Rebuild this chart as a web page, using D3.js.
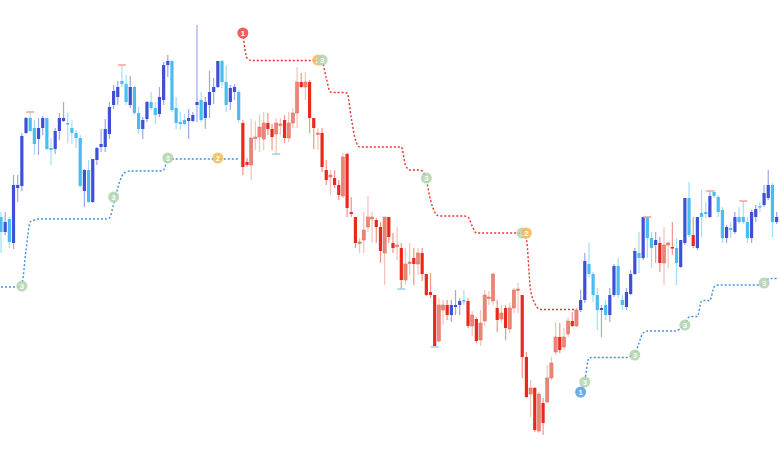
<!DOCTYPE html>
<html><head><meta charset="utf-8">
<script src="https://cdn.jsdelivr.net/npm/d3@7"></script>
<style>html,body{margin:0;padding:0;background:#fff;}svg{display:block}</style>
</head><body><svg id="chart" width="780" height="460"></svg>
<script>
// ---- Candle data (index = bar number) ----
const open = [243,228,241,217,272,274,327,342,332,321,
332,342,312,311,329,339,337,332,327,322,
269,290,258,300,313,313,326,355,363,379,
376,355,373,347,331,341,358,352,346,360,
395,399,352,338,340,339,339,355,360,342,
355,368,373,399,378,358,368,368,
337,298,295,322,323,321,337,331,326,335,
340,322,337,347,378,373,378,342,326,327,
290,283,282,275,264,306,248,243,217,220,
233,241,240,233,207,243,217,214,212,
180,197,202,196,207,186,168,165,119,150,
155,145,153,155,160,159,134,141,120,139,
162,159,152,141,152,131,152,170,165,103,
66,72,29,57,58,82,108,123,113,126,139,134,
150,160,196,186,165,150,155,145,165,194,
160,153,166,186,207,202,243,222,215,217,
197,215,213,212,193,217,262,225,212,247,
248,243,268,263,250,222,232,228,243,243,
238,222,243,254,255,262,275,238];
const high = [248,248,243,285,285,327,343,348,340,342,
344,342,322,332,347,358,347,340,330,325,
291,300,301,313,331,341,358,375,379,395,
385,384,374,353,343,359,368,358,373,398,
405,400,363,348,346,351,348,435,368,363,
389,382,399,400,395,375,376,370,
340,302,341,339,345,348,347,336,342,342,
345,348,352,393,387,388,380,342,332,332,
300,290,290,280,307,307,263,243,222,248,
264,248,242,238,243,243,227,233,217,
212,217,212,212,212,186,187,165,162,160,
160,160,170,162,170,162,149,143,150,170,
169,187,160,155,155,157,172,177,165,108,
80,73,68,62,95,103,138,137,132,143,148,152,
170,207,217,188,172,155,160,172,196,202,
165,172,190,212,228,243,243,228,228,223,
233,218,238,222,220,262,278,243,243,270,
258,269,270,265,253,235,238,248,253,259,
243,250,255,258,275,290,277,248];
const low = [207,225,212,211,258,269,326,328,305,305,
325,310,295,306,320,338,317,316,312,273,
253,257,257,295,308,308,321,351,355,373,
355,352,345,326,321,338,350,336,343,355,
383,348,331,330,335,321,338,338,338,331,
342,356,372,372,348,350,360,338,
285,293,280,310,308,310,325,310,306,325,
317,318,332,332,372,360,327,311,310,288,
275,265,272,260,262,243,243,212,207,207,
228,217,217,197,175,217,207,200,171,
175,185,175,185,179,164,162,113,117,135,
140,138,145,145,155,132,124,117,114,134,
155,155,128,137,120,127,147,147,82,62,
43,28,27,25,57,80,105,107,110,123,133,133,
148,157,183,158,130,123,140,138,163,162,
150,150,165,185,187,200,202,192,197,188,
175,192,205,175,192,215,223,212,210,223,
242,242,262,243,217,217,222,226,236,236,
217,217,238,248,253,260,223,236];
const close = [228,238,218,275,275,324,342,329,316,332,
342,311,310,329,342,342,336,327,322,274,
290,258,301,312,316,331,353,369,373,376,
358,373,347,331,340,358,352,345,363,395,
399,350,337,336,336,342,345,358,340,358,
368,373,399,378,355,372,373,340,
293,295,322,323,333,337,331,323,337,336,
322,337,347,378,373,378,342,332,327,293,
280,285,275,265,303,252,246,217,218,230,
243,243,233,209,243,223,212,215,180,
196,198,196,207,186,165,165,114,155,155,
145,155,155,159,159,134,145,119,137,165,
163,186,140,147,132,152,170,171,103,63,
72,30,66,37,82,97,123,110,123,139,134,150,
160,199,186,165,150,152,145,165,194,165,
155,168,186,209,202,243,222,212,220,197,
215,217,212,197,220,262,225,214,243,243,
246,264,264,248,222,233,230,243,238,238,
222,248,251,253,267,275,238,243];

// bars drawn in the bearish-trend palette: [first, last]
const downRuns = [[58,107],[112,138],[158,161],[166,166]];
// swing markers
const highMarks = [7,29,155,170,178];
const lowMarks = [66,96,104];

// ---- trailing stop lines ----
const upStopAStart = 0;
const upStopA = [173,173,173,173,173,176,210,238,240,
241,241,241,241,241,241,241,241,241,241,241,241,241,241,241,241,241,
242,256,272,284,288,289,289,289,289,289,289,289,289,290,301,
301,301,301,301,301,301,301,301,301,301,301,301,301,301,301,301,301];
const downStopStart = 58;
const downStop = [427,402,399.5,399.5,399.5,399.5,399.5,399.5,399.5,399.5,399.5,399.5,399.5,399.5,399.5,399.5,399.5,399.5,
399,398,382,368,367.5,367.5,367.5,367,342,320,
313,313,313,313,313,313,313,313,313,313,313,
295,290,290,290,289,280,260,248,244,244,244,244,244,244,244,243,234,
227,227,227,227,227,227,227,227,227,227,227,
226,220,170,157,151,150.5,150.5,150.5,150.5,150.5,150.5,150.5,150.5,150.5];
const upStopBStart = 139;
const upStopB = [68,80,102,102.5,102.5,102.5,102.5,102.5,102.5,102.5,102.5,102.5,
104,106,117,127,129,129,129,129,129,129,129,129,132,136,143,143.5,143.5,
159,159.5,159.5,173,175,175,175,175,175,175,175,175,175,175,175,177,181,181.5,181.5];

// ---- signal badges ----
const signalIndex = [76,77,102,125,126,58,5,27,40,52,140,152,164,183,139];
const signalValue = [400,400,282,227,227,427,174,263,302,302,78,105,135,177,68];
const signalLabel = ["2","3","3","3","2","1","3","3","3","2","3","3","3","3","1"];
const signalSide  = ["d","d","d","d","d","d","u","u","u","u","u","u","u","u","u"];

// ---- drawing ----
const N = open.length;
const svg = d3.select("#chart");
const x = d3.scaleLinear().domain([0, N - 1]).range([1, 776.6]);
const y = d3.scaleLinear().domain([0, 460]).range([460, 0]);

const isDown = i => downRuns.some(r => i >= r[0] && i <= r[1]);
const palette = {upBull:"#3e50d8", upBear:"#48bdf1", downBear:"#e8291c", downBull:"#ea8676"};
const bars = d3.range(N).map(i => {
  const bull = close[i] >= open[i];
  const key = isDown(i) ? (bull ? "downBull" : "downBear") : (bull ? "upBull" : "upBear");
  return {i, o:open[i], h:high[i], l:low[i], c:close[i], key};
});

// stop lines
const line = d3.line().x(d => x(d.i)).y(d => y(d.v)).curve(d3.curveMonotoneX);
const toPts = (arr, s) => arr.map((v, k) => ({i: s + k, v}));
svg.append("path").attr("d", line(toPts(upStopA, upStopAStart)))
  .attr("fill","none").attr("stroke","#3f8ee6").attr("stroke-width",1.4).attr("stroke-dasharray","2,2");
svg.append("path").attr("d", line(toPts(upStopB, upStopBStart)))
  .attr("fill","none").attr("stroke","#3f8ee6").attr("stroke-width",1.4).attr("stroke-dasharray","2,2");
svg.append("path").attr("d", line(toPts(downStop, downStopStart)))
  .attr("fill","none").attr("stroke","#e5322a").attr("stroke-width",1.4).attr("stroke-dasharray","2,2");

// wicks
svg.append("g").selectAll("line").data(bars).join("line")
  .attr("x1", d => x(d.i)).attr("x2", d => x(d.i))
  .attr("y1", d => y(d.h)).attr("y2", d => y(d.l))
  .attr("stroke", d => palette[d.key]).attr("stroke-opacity", 0.5).attr("stroke-width", 1.2);

// bodies
svg.append("g").selectAll("rect").data(bars).join("rect")
  .attr("x", d => x(d.i) - 1.6).attr("width", 3.2)
  .attr("y", d => y(Math.max(d.o, d.c)))
  .attr("height", d => Math.max(1.5, Math.abs(y(d.o) - y(d.c))))
  .attr("fill", d => palette[d.key])
  .attr("stroke", d => d.key === "downBull" ? "#e06a5a" : "none")
  .attr("stroke-width", 0.5);

// swing caps
svg.append("g").selectAll("line").data(highMarks).join("line")
  .attr("x1", i => x(i) - 4).attr("x2", i => x(i) + 4)
  .attr("y1", i => y(high[i])).attr("y2", i => y(high[i]))
  .attr("stroke", "#f3a398").attr("stroke-width", 1.5);
svg.append("g").selectAll("line").data(lowMarks).join("line")
  .attr("x1", i => x(i) - 4).attr("x2", i => x(i) + 4)
  .attr("y1", i => y(low[i])).attr("y2", i => y(low[i]))
  .attr("stroke", "#8fd3f5").attr("stroke-width", 1.5);

// badges
const badgeColor = (lab, side) => lab === "1" ? (side === "d" ? "#ef5656" : "#66a7f2") : lab === "2" ? "#f6b855" : "#b2d3ab";
const badges = svg.append("g").selectAll("g").data(signalIndex.map((idx, k) => ({idx, v: signalValue[k], lab: signalLabel[k], side: signalSide[k]})))
  .join("g").attr("transform", d => `translate(${x(d.idx)},${y(d.v)})`);
badges.append("circle").attr("r", 5.5)
  .attr("fill", d => badgeColor(d.lab, d.side)).attr("fill-opacity", d => d.lab === "1" ? 0.95 : 0.85);
badges.append("text").text(d => d.lab)
  .attr("text-anchor", "middle").attr("dy", "0.36em")
  .attr("font-family", "Liberation Sans, Arial, sans-serif").attr("font-size", 7.5).attr("font-weight", "bold")
  .attr("fill", "#fff");
</script>
</body></html>
